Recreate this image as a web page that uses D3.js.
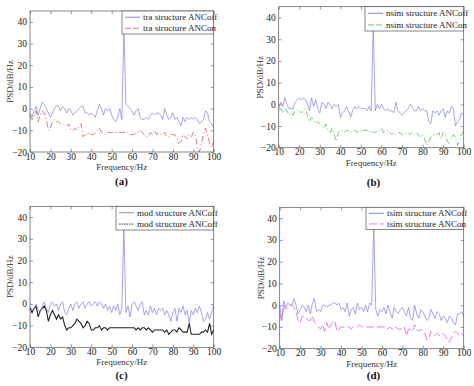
<!DOCTYPE html>
<html><head><meta charset="utf-8">
<script src="https://cdn.jsdelivr.net/npm/d3@7"></script>
<style>body{margin:0;background:#fff}svg{display:block}text{font-family:"Liberation Serif","Times New Roman",serif}</style>
</head><body><svg id="c" width="474" height="386"></svg>
<script>
const freq = d3.range(10, 101, 1);
const xTicks = [10,20,30,40,50,60,70,80,90,100];
const yTicks = [-20,-10,0,10,20,30,40];
const captions = ["(a)","(b)","(c)","(d)"];
const legendA = ["tra structure ANCoff","tra structure ANCon"];
const legendB = ["nsim structure ANCoff","nsim structure ANCon"];
const legendC = ["mod structure ANCoff","mod structure ANCoff"];
const legendD = ["tsim structure ANCoff","tsim structure ANCon"];

const aOff = [-2,-4,-1,1,-3,0,3,2,0,-2,-4,-2,0,1.5,1,-1,1,0,-2,0,-1,-3,-2,-1,0,1,1,-2,-2,-3,-2,-3,-4,-1,2,0,-3,0,-1,0,-3,-5,-6,-4,0,-5,36,2,1,0,-1,-3,-1,0,-4,-5,-5,-4,-5,-3,-2,-3,-2,-2,-3,-5,0,-3,-5,-4,-2,-5,-4,-6,-8,-4,-6,-4,-5,-4,-5,-4,-5,-7,-6,-5,-1,-2,-6,-7,-9];
const aOn = [-3,-5,-3,-1,-6,-3,-1,-2,-5,-10,-9,-6,-5,-6,-6,-7,-7,-8,-8,-7,-10,-10,-9,-10,-8,-7,-13,-12,-12,-11,-12,-12,-11,-10,-9,-11,-11,-12,-11,-11,-11,-11,-11,-11,-11,-11,-11,-11,-11,-12,-12,-12,-11,-11,-10,-11,-12,-13,-13,-11,-12,-10,-12,-11,-12,-12,-11,-13,-13,-12,-12,-12,-14,-16,-15,-12,-13,-14,-12,-13,-11,-12,-18,-20,-16,-12,-9,-12,-16,-18,-15];
const bOff = [-2,1,-1,3,0,-2,-2,-2,1,2,3,2,3,2,0,-3,3,-1,2,-2,-4,1,0,-2,1,0,-2,0,-1,0,-6,-4,-3,-1,-3,-6,-3,-1,-2,-1,-2,-2,-2,-3,-1,-3,36,-3,0,-2,0,-2,-3,-2,-3,-3,-4,1,-3,-4,-5,-4,-3,-2,0,-1,-3,-3,-1,-3,-2,-3,-3,-8,-9,-3,-4,-3,-5,-3,-2,-6,-3,-4,-1,-2,-10,-8,-7,-4,-5];
const bOn = [-3,-2,-4,-2,-3,-5,-4,-5,-3,-2,-3,-4,-3,-2,-5,-8,-6,-7,-9,-8,-9,-10,-11,-9,-12,-13,-11,-14,-17,-13,-12,-12,-13,-12,-12,-13,-12,-12,-13,-12,-13,-12,-12,-12,-13,-12,-13,-13,-12,-12,-11,-13,-12,-12,-13,-14,-13,-14,-13,-13,-14,-14,-13,-13,-14,-13,-14,-13,-14,-15,-14,-16,-19,-17,-15,-14,-14,-14,-13,-16,-13,-14,-17,-18,-16,-14,-15,-19,-15,-14,-12];
const cOff = [-1,-3,-2,0,-3,-4,-1,1,-2,-4,0,1,-1,0,-3,0,1,-4,-5,-2,0,-3,0,1,-2,0,1,-2,0,1,-1,0,1,-1,1,0,-2,0,-3,-1,-4,-1,-3,0,-5,-2,35,-4,-1,-6,0,1,-1,-3,0,1,-5,-3,-5,-1,-4,-2,-5,-2,-3,-2,-5,-3,-5,-8,-4,-2,-8,-2,-4,-1,-5,-3,-9,-3,-5,-2,-4,-1,-4,-8,-7,-4,-7,-4,-1];
const cOn = [-2,-4,-2,-1,-6,-3,-2,-1,-3,-8,-5,-3,-5,-7,-5,-7,-6,-10,-12,-11,-11,-10,-9,-7,-8,-9,-11,-10,-8,-9,-12,-12,-11,-11,-10,-12,-11,-11,-12,-11,-11,-11,-11,-11,-11,-11,-11,-11,-11,-11,-11,-11,-12,-11,-12,-11,-11,-12,-11,-12,-13,-12,-12,-12,-12,-12,-13,-12,-14,-13,-12,-12,-13,-11,-12,-13,-13,-13,-9,-14,-14,-14,-14,-14,-13,-13,-12,-13,-9,-14,-12];
const dOff = [0,-7,2,-1,1,0,0,3,0,-4,-2,0,-1,-3,0,-4,1,3,-3,-2,-3,0,0,-1,0,0,1,1,0,1,-2,-1,-3,1,-5,-2,-1,-4,1,-2,-1,-3,0,-3,1,0,36,-2,-5,-2,-3,-1,-4,0,-3,-6,-1,-3,-4,-2,-1,-3,-5,-1,-6,-7,0,-4,-6,-2,-3,-5,-7,-6,-2,-4,-6,-3,-4,-7,-5,-6,-8,-5,-6,-8,-9,-4,-4,-3,-5];
const dOn = [-4,-7,0,-2,-1,0,0,-1,-3,-7,-8,-5,-5,-6,-7,-7,-5,-8,-9,-10,-11,-9,-12,-8,-11,-9,-8,-7,-12,-11,-10,-10,-10,-10,-10,-11,-10,-10,-10,-9,-10,-10,-10,-10,-10,-10,-10,-10,-10,-10,-10,-10,-10,-11,-10,-11,-11,-10,-11,-11,-11,-10,-14,-11,-11,-12,-9,-11,-12,-11,-12,-13,-16,-15,-12,-13,-14,-13,-14,-14,-13,-14,-16,-17,-15,-13,-12,-13,-14,-13,-14];

const panels = [
 {L:30, R:213.7, T:11, B:152, off:aOff, on:aOn, leg:legendA, col:"#e36a6a", dash:"6,2.5,1.2,2.5", legDash:"6,2", lx:122, lb:34, ylx:10, cap:captions[0], cx:121.5, cy:185},
 {L:278.7, R:463.7, T:6.7, B:147.7, off:bOff, on:bOn, leg:legendB, col:"#5fc85f", dash:"6,2.5,1.2,2.5", legDash:"6,2", lx:365, lb:31, ylx:259.5, cap:captions[1], cx:373.5, cy:186},
 {L:30, R:213.7, T:206.3, B:347.3, off:cOff, on:cOn, leg:legendC, col:"#222", dash:null, legDash:"1.5,1", lx:116, lb:230, ylx:10, cap:captions[2], cx:121.5, cy:379},
 {L:279.7, R:463.7, T:207.3, B:348.7, off:dOff, on:dOn, leg:legendD, col:"#e070e0", dash:"8,3", legDash:"8,3", lx:366, lb:229.5, ylx:261, cap:captions[3], cx:373.5, cy:379}
];
const svg = d3.select("#c");
const blue = "#7a7af0";
panels.forEach(p => {
  const g = svg.append("g");
  const x = d3.scaleLinear().domain([10,100]).range([p.L,p.R]);
  const y = d3.scaleLinear().domain([-20,45]).range([p.B,p.T]);
  const line = arr => d3.line().x((d,i)=>x(freq[i])).y(d=>y(d))(arr);
  g.append("rect").attr("x",p.L).attr("y",p.T).attr("width",p.R-p.L).attr("height",p.B-p.T).attr("fill","#fff");
  g.append("g").attr("transform",`translate(0,${p.B})`)
    .call(d3.axisBottom(x).tickValues(xTicks).tickSizeInner(-3).tickSizeOuter(0).tickPadding(1));
  g.append("g").attr("transform",`translate(${p.L},0)`)
    .call(d3.axisLeft(y).tickValues(yTicks).tickSizeInner(-3).tickSizeOuter(0).tickPadding(3));
  g.append("g").attr("transform",`translate(0,${p.T})`)
    .call(d3.axisTop(x).tickValues(xTicks).tickSizeInner(-3).tickSizeOuter(0).tickFormat(""));
  g.append("g").attr("transform",`translate(${p.R},0)`)
    .call(d3.axisRight(y).tickValues(yTicks).tickSizeInner(-3).tickSizeOuter(0).tickFormat(""));
  g.selectAll(".domain").remove();
  g.selectAll(".tick line").attr("stroke","#555").attr("stroke-width",0.6);
  g.selectAll(".tick text").attr("font-family","Liberation Serif").attr("font-size",9.5).attr("fill","#222");
  g.append("path").attr("d",line(p.on)).attr("fill","none").attr("stroke",p.col).attr("stroke-width",p.dash?0.9:1.1)
    .attr("stroke-dasharray",p.dash);
  g.append("path").attr("d",line(p.off)).attr("fill","none").attr("stroke",blue).attr("stroke-width",0.8).attr("stroke-opacity",0.85);
  g.append("rect").attr("x",p.L).attr("y",p.T).attr("width",p.R-p.L).attr("height",p.B-p.T).attr("fill","none").attr("stroke","#555").attr("stroke-width",0.7);
  const lg = g.append("g");
  lg.append("rect").attr("x",p.lx).attr("y",p.T).attr("width",p.R-p.lx).attr("height",p.lb-p.T).attr("fill","#fff").attr("stroke","#555").attr("stroke-width",0.7);
  const rows = [p.T+(p.lb-p.T)*0.27, p.T+(p.lb-p.T)*0.75];
  const cols = [blue, p.col];
  const dashes = [null, p.legDash];
  rows.forEach((ry,i)=>{
    lg.append("line").attr("x1",p.lx+3).attr("x2",p.lx+18).attr("y1",ry).attr("y2",ry)
      .attr("stroke",cols[i]).attr("stroke-width",0.9).attr("stroke-dasharray",dashes[i]);
    lg.append("text").attr("x",p.lx+21).attr("y",ry+3).attr("font-size",9).attr("fill","#222").text(p.leg[i]);
  });
  g.append("text").attr("transform",`translate(${p.ylx},${(p.T+p.B)/2}) rotate(-90)`).attr("text-anchor","middle")
    .attr("dy","0.35em").attr("font-size",9).attr("fill","#333").text("PSD/dB/Hz");
  g.append("text").attr("x",(p.L+p.R)/2).attr("y",p.B+18).attr("text-anchor","middle").attr("font-size",9).attr("fill","#333").text("Frequency/Hz");
  g.append("text").attr("x",p.cx).attr("y",p.cy).attr("text-anchor","middle").attr("font-size",11).attr("font-weight","bold").attr("fill","#111").text(p.cap);
});
</script></body></html>
